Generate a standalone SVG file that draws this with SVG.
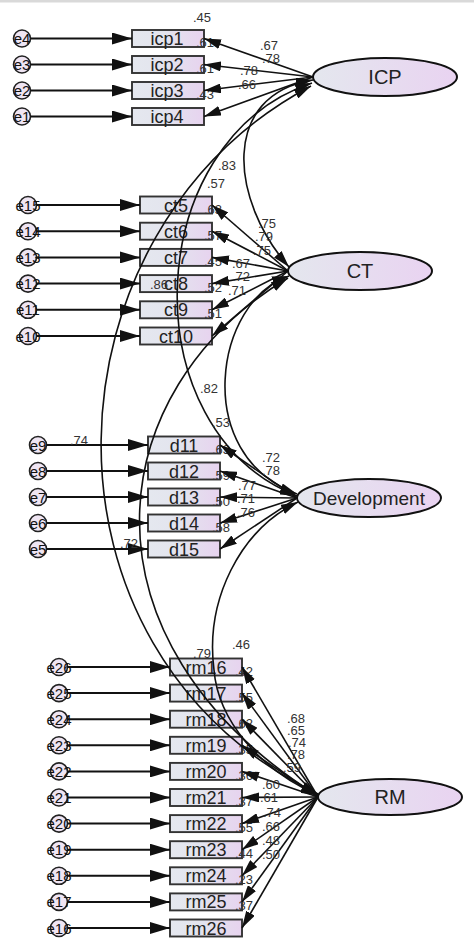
<svg xmlns="http://www.w3.org/2000/svg" width="474" height="950" viewBox="0 0 474 950">
<defs>
<linearGradient id="gb" x1="0" y1="0" x2="1" y2="0"><stop offset="0" stop-color="#e5e8ef"/><stop offset="0.45" stop-color="#e3e4ee"/><stop offset="1" stop-color="#e7d3ef"/></linearGradient>
<linearGradient id="ge" x1="0" y1="0" x2="1" y2="0"><stop offset="0" stop-color="#e4e7ee"/><stop offset="1" stop-color="#e9d3f1"/></linearGradient>
<marker id="ah" viewBox="0 0 20 12" refX="20" refY="6" markerWidth="20" markerHeight="12" markerUnits="userSpaceOnUse" orient="auto"><path d="M0,0 L20,6 L0,12 z" fill="#111"/></marker>
<marker id="al" viewBox="0 0 17 10" refX="17" refY="5" markerWidth="17" markerHeight="10" markerUnits="userSpaceOnUse" orient="auto"><path d="M0,0 L17,5 L0,10 z" fill="#111"/></marker>
<marker id="ac" viewBox="0 0 17 10" refX="17" refY="5" markerWidth="17" markerHeight="10" markerUnits="userSpaceOnUse" orient="auto-start-reverse"><path d="M0,0 L17,5 L0,10 z" fill="#111"/></marker>
</defs>
<style>
.box{fill:url(#gb);stroke:#333;stroke-width:1.9}
.lat{fill:url(#ge);stroke:#111;stroke-width:2}
.err{fill:#efe5f3;stroke:#222;stroke-width:1.6}
.bt{font-family:"Liberation Sans",Arial,sans-serif;font-size:18px;fill:#222;text-anchor:middle}
.lt{font-family:"Liberation Sans",Arial,sans-serif;font-size:20px;fill:#222;text-anchor:middle}
.et{font-family:"Liberation Sans",Arial,sans-serif;font-size:15px;fill:#111;text-anchor:middle}
.nt{font-family:"Liberation Sans",Arial,sans-serif;font-size:13px;fill:#333}
.ea{stroke:#111;stroke-width:2;fill:none;marker-end:url(#ah)}
.ld{stroke:#111;stroke-width:1.6;fill:none;marker-end:url(#al)}
.cv{stroke:#111;stroke-width:1.6;fill:none;marker-start:url(#ac);marker-end:url(#ac)}
</style>
<rect x="0" y="0" width="474" height="950" fill="#fff"/>
<rect x="0" y="0" width="474" height="2.5" fill="#d9d9d9"/>

<!-- ICP block -->
<g id="e4"><circle class="err" cx="22" cy="38.5" r="8.5"/><text class="et" x="22" y="44">e4</text></g>
<g id="e3"><circle class="err" cx="22" cy="64.5" r="8.5"/><text class="et" x="22" y="70">e3</text></g>
<g id="e2"><circle class="err" cx="22" cy="90.5" r="8.5"/><text class="et" x="22" y="96">e2</text></g>
<g id="e1"><circle class="err" cx="22" cy="116.5" r="8.5"/><text class="et" x="22" y="122">e1</text></g>
<g id="icp1"><rect class="box" x="132" y="30" width="72" height="17"/><text class="bt" x="167" y="45">icp1</text><text class="nt" x="196" y="47">.61</text></g>
<g id="icp2"><rect class="box" x="132" y="56" width="72" height="17"/><text class="bt" x="167" y="71">icp2</text><text class="nt" x="196" y="73">.61</text></g>
<g id="icp3"><rect class="box" x="132" y="82" width="72" height="17"/><text class="bt" x="167" y="97">icp3</text><text class="nt" x="196" y="99">.43</text></g>
<g id="icp4"><rect class="box" x="132" y="108" width="72" height="17"/><text class="bt" x="167" y="123">icp4</text></g>
<g id="ICP"><ellipse class="lat" cx="385" cy="77" rx="72" ry="19"/><text class="lt" x="385" y="84">ICP</text></g>

<!-- CT block -->
<g id="e15"><circle class="err" cx="28" cy="205" r="8.5"/><text class="et" x="28" y="210.5">e15</text></g>
<g id="e14"><circle class="err" cx="28" cy="231.2" r="8.5"/><text class="et" x="28" y="236.7">e14</text></g>
<g id="e13"><circle class="err" cx="28" cy="257.4" r="8.5"/><text class="et" x="28" y="262.9">e13</text></g>
<g id="e12"><circle class="err" cx="28" cy="283.6" r="8.5"/><text class="et" x="28" y="289.1">e12</text></g>
<g id="e11"><circle class="err" cx="28" cy="309.8" r="8.5"/><text class="et" x="28" y="315.3">e11</text></g>
<g id="e10"><circle class="err" cx="28" cy="336" r="8.5"/><text class="et" x="28" y="341.5">e10</text></g>
<g id="ct5"><rect class="box" x="140" y="196.5" width="72" height="17"/><text class="bt" x="176" y="211.5">ct5</text><text class="nt" x="204" y="214">.63</text></g>
<g id="ct6"><rect class="box" x="140" y="222.7" width="72" height="17"/><text class="bt" x="176" y="237.7">ct6</text><text class="nt" x="204" y="240">.57</text></g>
<g id="ct7"><rect class="box" x="140" y="248.9" width="72" height="17"/><text class="bt" x="176" y="263.9">ct7</text><text class="nt" x="204" y="266">.45</text></g>
<g id="ct8"><rect class="box" x="140" y="275.1" width="72" height="17"/><text class="bt" x="176" y="290.1">ct8</text><text class="nt" x="204" y="292">.52</text></g>
<g id="ct9"><rect class="box" x="140" y="301.3" width="72" height="17"/><text class="bt" x="176" y="316.3">ct9</text><text class="nt" x="204" y="318">.51</text></g>
<g id="ct10"><rect class="box" x="140" y="327.5" width="72" height="17"/><text class="bt" x="176" y="342.5">ct10</text></g>
<g id="CT"><ellipse class="lat" cx="360" cy="271" rx="72" ry="19"/><text class="lt" x="360" y="278">CT</text></g>

<!-- Development block -->
<g id="e9"><circle class="err" cx="38" cy="445" r="8.5"/><text class="et" x="38" y="450.5">e9</text></g>
<g id="e8"><circle class="err" cx="38" cy="471" r="8.5"/><text class="et" x="38" y="476.5">e8</text></g>
<g id="e7"><circle class="err" cx="38" cy="497" r="8.5"/><text class="et" x="38" y="502.5">e7</text></g>
<g id="e6"><circle class="err" cx="38" cy="523" r="8.5"/><text class="et" x="38" y="528.5">e6</text></g>
<g id="e5"><circle class="err" cx="38" cy="549" r="8.5"/><text class="et" x="38" y="554.5">e5</text></g>
<g id="d11"><rect class="box" x="148" y="436.5" width="72" height="17"/><text class="bt" x="184" y="451.5">d11</text><text class="nt" x="212" y="454">.63</text></g>
<g id="d12"><rect class="box" x="148" y="462.5" width="72" height="17"/><text class="bt" x="184" y="477.5">d12</text><text class="nt" x="212" y="480">.59</text></g>
<g id="d13"><rect class="box" x="148" y="488.5" width="72" height="17"/><text class="bt" x="184" y="503.5">d13</text><text class="nt" x="212" y="506">.50</text></g>
<g id="d14"><rect class="box" x="148" y="514.5" width="72" height="17"/><text class="bt" x="184" y="529.5">d14</text><text class="nt" x="212" y="532">.58</text></g>
<g id="d15"><rect class="box" x="148" y="540.5" width="72" height="17"/><text class="bt" x="184" y="555.5">d15</text></g>
<g id="Development"><ellipse class="lat" cx="369" cy="498" rx="72" ry="19"/><text class="lt" x="369" y="505" style="font-size:19px">Development</text></g>

<!-- RM block -->
<g id="e26"><circle class="err" cx="59" cy="667" r="8.5"/><text class="et" x="59" y="672.5">e26</text></g>
<g id="e25"><circle class="err" cx="59" cy="693.1" r="8.5"/><text class="et" x="59" y="698.6">e25</text></g>
<g id="e24"><circle class="err" cx="59" cy="719.2" r="8.5"/><text class="et" x="59" y="724.7">e24</text></g>
<g id="e23"><circle class="err" cx="59" cy="745.3" r="8.5"/><text class="et" x="59" y="750.8">e23</text></g>
<g id="e22"><circle class="err" cx="59" cy="771.4" r="8.5"/><text class="et" x="59" y="776.9">e22</text></g>
<g id="e21"><circle class="err" cx="59" cy="797.5" r="8.5"/><text class="et" x="59" y="803">e21</text></g>
<g id="e20"><circle class="err" cx="59" cy="823.6" r="8.5"/><text class="et" x="59" y="829.1">e20</text></g>
<g id="e19"><circle class="err" cx="59" cy="849.7" r="8.5"/><text class="et" x="59" y="855.2">e19</text></g>
<g id="e18"><circle class="err" cx="59" cy="875.8" r="8.5"/><text class="et" x="59" y="881.3">e18</text></g>
<g id="e17"><circle class="err" cx="59" cy="901.9" r="8.5"/><text class="et" x="59" y="907.4">e17</text></g>
<g id="e16"><circle class="err" cx="59" cy="928" r="8.5"/><text class="et" x="59" y="933.5">e16</text></g>
<g id="rm16"><rect class="box" x="170" y="658.5" width="72" height="17"/><text class="bt" x="206" y="673.5">rm16</text><text class="nt" x="235" y="676">.42</text></g>
<g id="rm17"><rect class="box" x="170" y="684.6" width="72" height="17"/><text class="bt" x="206" y="699.6">rm17</text><text class="nt" x="235" y="702">.55</text></g>
<g id="rm18"><rect class="box" x="170" y="710.7" width="72" height="17"/><text class="bt" x="206" y="725.7">rm18</text><text class="nt" x="235" y="728">.62</text></g>
<g id="rm19"><rect class="box" x="170" y="736.8" width="72" height="17"/><text class="bt" x="206" y="751.8">rm19</text><text class="nt" x="235" y="754">.35</text></g>
<g id="rm20"><rect class="box" x="170" y="762.9" width="72" height="17"/><text class="bt" x="206" y="777.9">rm20</text><text class="nt" x="235" y="780">.36</text></g>
<g id="rm21"><rect class="box" x="170" y="789" width="72" height="17"/><text class="bt" x="206" y="804">rm21</text><text class="nt" x="235" y="806">.37</text></g>
<g id="rm22"><rect class="box" x="170" y="815.1" width="72" height="17"/><text class="bt" x="206" y="830.1">rm22</text><text class="nt" x="235" y="832">.55</text></g>
<g id="rm23"><rect class="box" x="170" y="841.2" width="72" height="17"/><text class="bt" x="206" y="856.2">rm23</text><text class="nt" x="235" y="858">.44</text></g>
<g id="rm24"><rect class="box" x="170" y="867.3" width="72" height="17"/><text class="bt" x="206" y="882.3">rm24</text><text class="nt" x="235" y="884">.23</text></g>
<g id="rm25"><rect class="box" x="170" y="893.4" width="72" height="17"/><text class="bt" x="206" y="908.4">rm25</text><text class="nt" x="235" y="910">.37</text></g>
<g id="rm26"><rect class="box" x="170" y="919.5" width="72" height="17"/><text class="bt" x="206" y="934.5">rm26</text></g>
<g id="RM"><ellipse class="lat" cx="390" cy="797" rx="72" ry="18"/><text class="lt" x="390" y="804">RM</text></g>

<g id="connectors">
<!-- error arrows -->
<line class="ea" x1="30.5" y1="38.5" x2="132" y2="38.5"/>
<line class="ea" x1="30.5" y1="64.5" x2="132" y2="64.5"/>
<line class="ea" x1="30.5" y1="90.5" x2="132" y2="90.5"/>
<line class="ea" x1="30.5" y1="116.5" x2="132" y2="116.5"/>
<line class="ea" x1="36.5" y1="205" x2="140" y2="205"/>
<line class="ea" x1="36.5" y1="231.2" x2="140" y2="231.2"/>
<line class="ea" x1="36.5" y1="257.4" x2="140" y2="257.4"/>
<line class="ea" x1="36.5" y1="283.6" x2="140" y2="283.6"/>
<line class="ea" x1="36.5" y1="309.8" x2="140" y2="309.8"/>
<line class="ea" x1="36.5" y1="336" x2="140" y2="336"/>
<line class="ea" x1="46.5" y1="445" x2="148" y2="445"/>
<line class="ea" x1="46.5" y1="471" x2="148" y2="471"/>
<line class="ea" x1="46.5" y1="497" x2="148" y2="497"/>
<line class="ea" x1="46.5" y1="523" x2="148" y2="523"/>
<line class="ea" x1="46.5" y1="549" x2="148" y2="549"/>
<line class="ea" x1="67.5" y1="667" x2="170" y2="667"/>
<line class="ea" x1="67.5" y1="693.1" x2="170" y2="693.1"/>
<line class="ea" x1="67.5" y1="719.2" x2="170" y2="719.2"/>
<line class="ea" x1="67.5" y1="745.3" x2="170" y2="745.3"/>
<line class="ea" x1="67.5" y1="771.4" x2="170" y2="771.4"/>
<line class="ea" x1="67.5" y1="797.5" x2="170" y2="797.5"/>
<line class="ea" x1="67.5" y1="823.6" x2="170" y2="823.6"/>
<line class="ea" x1="67.5" y1="849.7" x2="170" y2="849.7"/>
<line class="ea" x1="67.5" y1="875.8" x2="170" y2="875.8"/>
<line class="ea" x1="67.5" y1="901.9" x2="170" y2="901.9"/>
<line class="ea" x1="67.5" y1="928" x2="170" y2="928"/>
<!-- loadings -->
<line class="ld" x1="313" y1="77" x2="204" y2="38.5"/>
<line class="ld" x1="313" y1="77" x2="204" y2="64.5"/>
<line class="ld" x1="313" y1="77" x2="204" y2="90.5"/>
<line class="ld" x1="313" y1="77" x2="204" y2="116.5"/>
<line class="ld" x1="288" y1="271" x2="212" y2="205"/>
<line class="ld" x1="288" y1="271" x2="212" y2="231.2"/>
<line class="ld" x1="288" y1="271" x2="212" y2="257.4"/>
<line class="ld" x1="288" y1="271" x2="212" y2="283.6"/>
<line class="ld" x1="288" y1="271" x2="212" y2="309.8"/>
<line class="ld" x1="288" y1="271" x2="212" y2="336"/>
<line class="ld" x1="297" y1="498" x2="220" y2="445"/>
<line class="ld" x1="297" y1="498" x2="220" y2="471"/>
<line class="ld" x1="297" y1="498" x2="220" y2="497"/>
<line class="ld" x1="297" y1="498" x2="220" y2="523"/>
<line class="ld" x1="297" y1="498" x2="220" y2="549"/>
<line class="ld" x1="318" y1="797" x2="242" y2="667"/>
<line class="ld" x1="318" y1="797" x2="242" y2="693.1"/>
<line class="ld" x1="318" y1="797" x2="242" y2="719.2"/>
<line class="ld" x1="318" y1="797" x2="242" y2="745.3"/>
<line class="ld" x1="318" y1="797" x2="242" y2="771.4"/>
<line class="ld" x1="318" y1="797" x2="242" y2="797.5"/>
<line class="ld" x1="318" y1="797" x2="242" y2="823.6"/>
<line class="ld" x1="318" y1="797" x2="242" y2="849.7"/>
<line class="ld" x1="318" y1="797" x2="242" y2="875.8"/>
<line class="ld" x1="318" y1="797" x2="242" y2="901.9"/>
<line class="ld" x1="318" y1="797" x2="242" y2="928"/>
<!-- covariances -->
<path class="cv" d="M313,80 C220,95 230,200 289,267"/>
<path class="cv" d="M289,276 C215,300 190,455 297,494"/>
<path class="cv" d="M312,83 C140,140 130,430 297,496"/>
<path class="cv" d="M311,86 C40,230 20,650 318,794"/>
<path class="cv" d="M288,278 C100,390 70,640 318,796"/>
<path class="cv" d="M298,502 C240,530 205,600 214,670 C218,720 260,770 318,795"/>
</g>

<g id="labels" class="nt">
<text x="193" y="22">.45</text>
<text x="260" y="50">.67</text>
<text x="262" y="63">.78</text>
<text x="240" y="75">.78</text>
<text x="238" y="89">.66</text>
<text x="218" y="170">.83</text>
<text x="207" y="188">.57</text>
<text x="258" y="228">.75</text>
<text x="255" y="241">.79</text>
<text x="253" y="255">.75</text>
<text x="232" y="268">.67</text>
<text x="232" y="281">.72</text>
<text x="228" y="295">.71</text>
<text x="150" y="289">.86</text>
<text x="200" y="393">.82</text>
<text x="212" y="427">.53</text>
<text x="70" y="445">.74</text>
<text x="262" y="462">.72</text>
<text x="262" y="475">.78</text>
<text x="238" y="490">.77</text>
<text x="237" y="503">.71</text>
<text x="237" y="517">.76</text>
<text x="120" y="548">.72</text>
<text x="193" y="658">.79</text>
<text x="232" y="649">.46</text>
<text x="287" y="723">.68</text>
<text x="287" y="735">.65</text>
<text x="288" y="747">.74</text>
<text x="287" y="759">.78</text>
<text x="283" y="772">.59</text>
<text x="262" y="789">.60</text>
<text x="260" y="802">.61</text>
<text x="263" y="817">.74</text>
<text x="262" y="831">.66</text>
<text x="262" y="845">.48</text>
<text x="262" y="859">.50</text>
</g>
</svg>
